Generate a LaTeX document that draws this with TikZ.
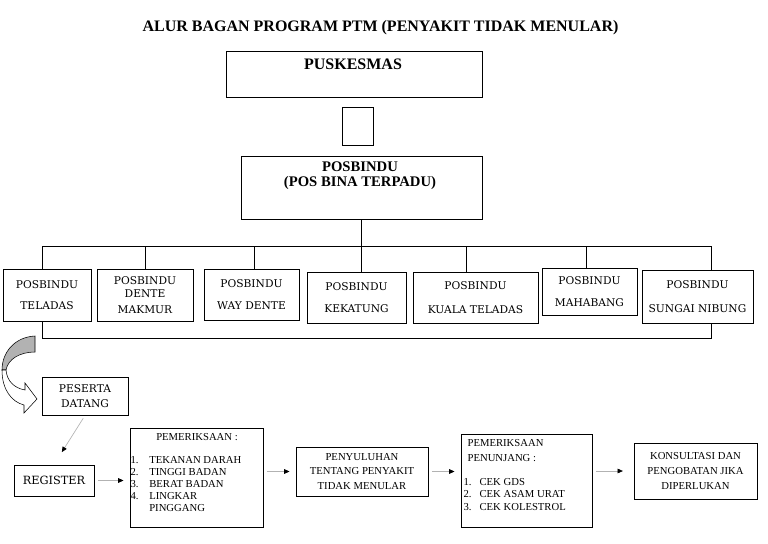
\documentclass[tikz,border=0pt]{standalone}
\usepackage{fontspec}
\setmainfont{Liberation Serif}
\newfontfamily\slabfont{DejaVu Serif}
\usetikzlibrary{arrows.meta}

\tikzset{
  box/.style={draw, line width=0.7pt, inner sep=0pt, align=center},
  rowbox/.style={box, font=\slabfont\fontsize{8}{9.5}\selectfont},
  listtext/.style={inner sep=1pt, align=left, font=\fontsize{8}{9}\selectfont},
  link/.style={line width=0.6pt},
  flow/.style={draw=gray!60, line width=0.5pt, -{Triangle[length=4pt,width=3.5pt,color=black]}, shorten <=2.5pt, shorten >=4.5pt},
}

\begin{document}
\begin{tikzpicture}[x=0.75pt,y=-0.75pt]
\useasboundingbox (0,0) rectangle (768,543);

    % define coordinates
    \coordinate (BR1) at (42,246) ;
    \coordinate (BR2) at (145,246) ;
    \coordinate (BR3) at (254,246) ;
    \coordinate (BR5) at (466,246) ;
    \coordinate (BR6) at (586,246) ;
    \coordinate (BR7) at (711,246) ;
    \coordinate (BL) at (42,338) ;
    \coordinate (BRt) at (711,338) ;

    % title
    \node[font=\bfseries\fontsize{12}{14}\selectfont] (title) at (380.5,28) {ALUR BAGAN PROGRAM PTM (PENYAKIT TIDAK MENULAR)};

    % top boxes
    \node[box, minimum width=192pt, minimum height=34.5pt] (puskesmas) at (354,74) {};
    \node[font=\bfseries\fontsize{12}{14}\selectfont] (puskesmas_t) at (353,64) {PUSKESMAS};
    \node[box, minimum width=23.25pt, minimum height=28.5pt] (arrowbox) at (357.5,126) {};
    \node[box, minimum width=180.75pt, minimum height=47.25pt] (posbindu) at (361.5,187.5) {};
    \node[font=\bfseries\fontsize{11}{11.25}\selectfont, align=center] (posbindu_t) at (360,176) {POSBINDU\\(POS BINA TERPADU)};

    % posbindu row
    \node[rowbox, minimum width=66pt, minimum height=39pt] (b1) at (47,295) {POSBINDU\\[6.5pt]TELADAS};
    \node[rowbox, minimum width=72pt, minimum height=39pt] (b2) at (145,295) {POSBINDU\\DENTE\\[2.5pt]MAKMUR};
    \node[rowbox, minimum width=71.25pt, minimum height=38.25pt] (b3) at (251.5,294.5) {POSBINDU\\[6.5pt]WAY DENTE};
    \node[rowbox, minimum width=74.25pt, minimum height=38.25pt] (b4) at (356.5,297.5) {POSBINDU\\[7.5pt]KEKATUNG};
    \node[rowbox, minimum width=93.75pt, minimum height=38.25pt] (b5) at (475.5,297.5) {POSBINDU\\[8pt]KUALA TELADAS};
    \node[rowbox, minimum width=71.25pt, minimum height=35.25pt] (b6) at (589.5,291.5) {POSBINDU\\[6.5pt]MAHABANG};
    \node[rowbox, minimum width=83.25pt, minimum height=39.75pt] (b7) at (697.5,296.5) {POSBINDU\\[8pt]SUNGAI NIBUNG};

    % branches
    \draw[link] (BR1) -- (BR7) ;
    \foreach \i in {1,2,3,5,6,7}
      \draw[link] (BR\i) -- (b\i.north -| BR\i) ;
    \draw[link] (posbindu.south) -- (b4.north -| posbindu.south) ;
    \draw[link] (b1.south -| BL) -- (BL) -- (BRt) -- (b7.south -| BRt) ;

    % curved arrow
    \filldraw[fill=gray!60, line width=0.4pt] (35,336) .. controls (15,337) and (2,352) .. (2,370) -- (6,370) .. controls (8,359) and (20,352) .. (35,352) -- cycle;
    \filldraw[fill=white, line width=0.4pt] (2,370) .. controls (2,390) and (12,402) .. (24,405) -- (24,413) -- (37,399) -- (25,383) -- (25,390) .. controls (14,388) and (7,381) .. (6,370) -- cycle;

    % flow boxes
    \node[rowbox, minimum width=64.5pt, minimum height=28.5pt] (peserta) at (85,396) {PESERTA\\[1.5pt]DATANG};
    \node[rowbox, font=\slabfont\fontsize{8.5}{10}\selectfont, minimum width=60pt, minimum height=23.25pt] (register) at (54,480.5) {REGISTER};

    \node[box, minimum width=99.75pt, minimum height=74.25pt] (pemeriksaan) at (196.5,477.5) {};
    \node[listtext, align=center] (pemeriksaan_h) at (197,437) {PEMERIKSAAN :};
    \node[listtext, anchor=west] (pemeriksaan_l) at (129,484) {\makebox[14pt][l]{1.}TEKANAN DARAH\\\makebox[14pt][l]{2.}TINGGI BADAN\\\makebox[14pt][l]{3.}BERAT BADAN\\\makebox[14pt][l]{4.}LINGKAR\\\makebox[14pt][l]{}PINGGANG};

    \node[box, font=\fontsize{8}{11}\selectfont, minimum width=99pt, minimum height=36.75pt] (penyuluhan) at (362,471.5) {PENYULUHAN\\TENTANG PENYAKIT\\TIDAK MENULAR};

    \node[box, minimum width=98.25pt, minimum height=69.75pt] (penunjang) at (526.5,480.5) {};
    \node[listtext, anchor=west, font=\fontsize{8}{11.25}\selectfont] (penunjang_h) at (466,450.5) {PEMERIKSAAN\\PENUNJANG :};
    \node[listtext, anchor=west, font=\fontsize{8}{9.4}\selectfont] (penunjang_l) at (462,494.5) {\makebox[12pt][l]{1.}CEK GDS\\\makebox[12pt][l]{2.}CEK ASAM URAT\\\makebox[12pt][l]{3.}CEK KOLESTROL};

    \node[box, font=\fontsize{8}{10.9}\selectfont, minimum width=92.25pt, minimum height=42pt] (konsultasi) at (695.5,471) {KONSULTASI DAN\\PENGOBATAN JIKA\\DIPERLUKAN};

    % arrows
    \draw[flow, shorten >=11pt] (peserta.south) -- (register.north) ;
    \draw[flow] (register.east) -- (register.east -| pemeriksaan.west) ;
    \draw[flow] (pemeriksaan.east |- penyuluhan.west) -- (penyuluhan.west) ;
    \draw[flow] (penyuluhan.east) -- (penyuluhan.east -| penunjang.west) ;
    \draw[flow, shorten >=8pt] (penunjang.east |- konsultasi.west) -- (konsultasi.west) ;

\end{tikzpicture}
\end{document}
